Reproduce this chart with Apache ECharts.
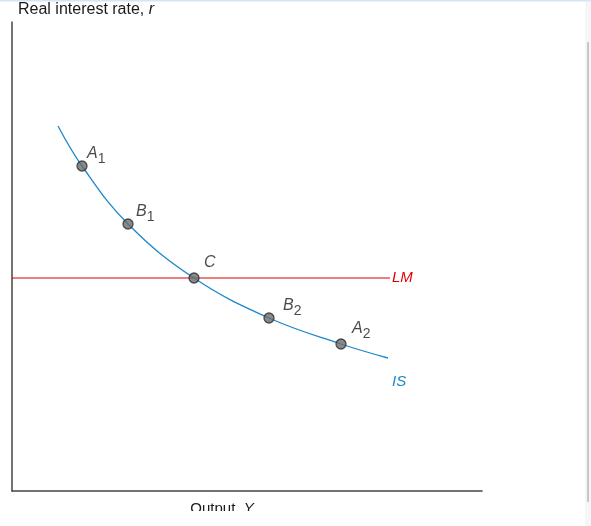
<!DOCTYPE html>
<html>
<head>
<meta charset="utf-8">
<script src="https://cdn.jsdelivr.net/npm/echarts@6/dist/echarts.min.js"></script>
<style>
  html, body { margin: 0; padding: 0; background: #fff; }
  #main { width: 591px; height: 526px; }
</style>
</head>
<body>
<div id="main"></div>
<script>
(function () {
  // axis units: 0..470 across, 0..469 up
  var isX = [46, 70, 116, 182, 257, 329, 376];
  var isY = [365, 325, 267, 213, 173, 147, 133];

  var lmX = [0, 378];
  var lmY = [213, 213];

  // labelled points on the IS curve
  var pointNames = ['A1', 'B1', 'C', 'B2', 'A2'];
  var pointX = [70, 116, 182, 257, 329];
  var pointY = [325, 267, 213, 173, 147];
  var labelOffsets = [[5, -12], [8, -12], [10, -15], [14, -12], [11, -15]];

  var chart = echarts.init(document.getElementById('main'));

  var letter = { fontSize: 16, fontStyle: 'italic', fontFamily: 'Liberation Sans', color: '#1a1a1a' };

  function richName(n) {
    if (n.length > 1) return '{a|' + n.charAt(0) + '}{s|' + n.substring(1) + '}';
    return '{a|' + n + '}';
  }

  var option = {
    animation: false,
    backgroundColor: '#fff',
    grid: { left: 12, top: 22, width: 470, height: 469 },
    xAxis: {
      type: 'value', min: 0, max: 470,
      name: '{t|Output, }{i|Y}',
      nameLocation: 'middle',
      nameGap: 10,
      nameTextStyle: {
        padding: [0, 50, 0, 0],
        rich: {
          t: { fontSize: 15, color: '#1a1a1a', fontFamily: 'Liberation Sans' },
          i: { fontSize: 15, color: '#1a1a1a', fontFamily: 'Liberation Sans', fontStyle: 'italic' }
        }
      },
      axisLine: { show: true, lineStyle: { color: '#444', width: 1.5 } },
      axisTick: { show: false }, axisLabel: { show: false }, splitLine: { show: false }
    },
    yAxis: {
      type: 'value', min: 0, max: 469,
      name: '{t|Real interest rate, }{i|r}',
      nameLocation: 'end',
      nameGap: 4,
      nameTextStyle: {
        align: 'left', padding: [0, 0, 0, 6],
        rich: {
          t: { fontSize: 16, color: '#1a1a1a', fontFamily: 'Liberation Sans' },
          i: { fontSize: 16, color: '#1a1a1a', fontFamily: 'Liberation Sans', fontStyle: 'italic' }
        }
      },
      axisLine: { show: true, lineStyle: { color: '#444', width: 1.5 } },
      axisTick: { show: false }, axisLabel: { show: false }, splitLine: { show: false }
    },
    series: [
      {
        name: 'LM', type: 'line', symbol: 'none',
        data: lmX.map(function (x, i) { return [x, lmY[i]]; }),
        lineStyle: { color: '#e00000', width: 1.2 },
        endLabel: {
          show: true, formatter: 'LM', distance: 2,
          fontSize: 15, fontStyle: 'italic', color: '#e00000', fontFamily: 'Liberation Sans'
        }
      },
      {
        name: 'IS', type: 'line', symbol: 'none', smooth: 0.4,
        data: isX.map(function (x, i) { return [x, isY[i]]; }),
        lineStyle: { color: '#1b88cc', width: 1.3 },
        endLabel: {
          show: true, formatter: 'IS', distance: 0, offset: [4, 24],
          fontSize: 15, fontStyle: 'italic', color: '#1b88cc', fontFamily: 'Liberation Sans'
        }
      },
      {
        name: 'points', type: 'scatter', symbolSize: 10, z: 5,
        itemStyle: { color: '#6b6b6b', borderColor: '#2a2a2a', borderWidth: 1.3 },
        data: pointNames.map(function (n, i) {
          return {
            name: n, value: [pointX[i], pointY[i]],
            label: {
              show: true, position: 'inside', align: 'left', verticalAlign: 'middle',
              offset: labelOffsets[i],
              formatter: richName(n),
              rich: {
                a: letter,
                s: { fontSize: 14, fontFamily: 'Liberation Sans', color: '#1a1a1a', padding: [10, 0, 0, 0] }
              }
            }
          };
        })
      }
    ],
    graphic: [
      { type: 'rect', shape: { x: 0, y: 511, width: 585, height: 15 }, style: { fill: '#fff' }, silent: true, z: 100 },
      { type: 'rect', shape: { x: 0, y: 0, width: 591, height: 1.5 }, style: { fill: '#d8e4f3' }, silent: true, z: 100 },
      { type: 'rect', shape: { x: 585, y: 2, width: 6, height: 524 }, style: { fill: '#f6f6f6' }, silent: true },
      { type: 'rect', shape: { x: 587, y: 42, width: 2, height: 460 }, style: { fill: '#c8c8c8' }, silent: true }
    ]
  };

  chart.setOption(option);
})();
</script>
</body>
</html>
